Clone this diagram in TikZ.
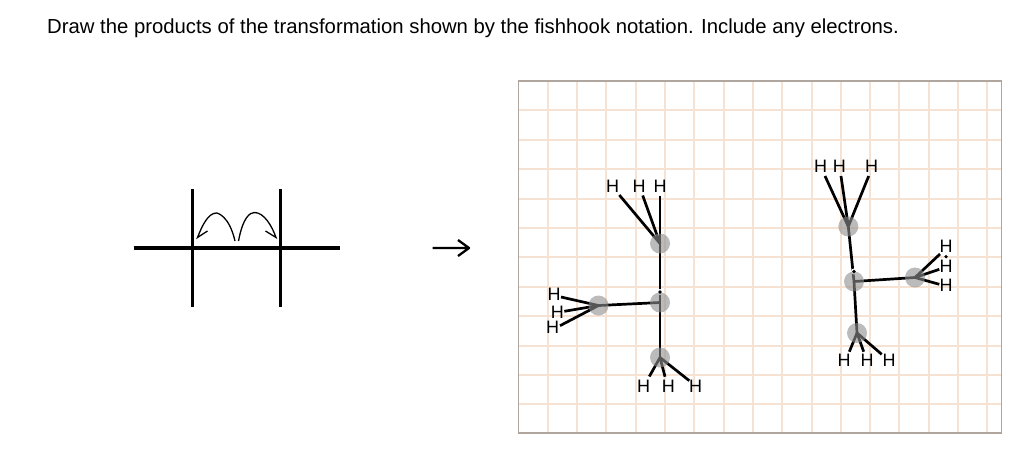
\documentclass[tikz,border=0pt]{standalone}
\usepackage{fontspec}
\setmainfont{Liberation Sans}
\definecolor{gridc}{HTML}{F6E2D2}
\definecolor{framec}{HTML}{B0A69E}
\definecolor{atomc}{HTML}{8F8F8F}
\tikzset{
  x=1pt,y=-1pt,
  gridline/.style={gridc,line width=2pt},
  framebox/.style={framec,line width=1.8pt},
  skeleton/.style={black,line width=3.2pt},
  bond/.style={black,line width=2.7pt},
  hookline/.style={black,line width=1.3pt},
  atom/.style={circle,minimum size=20pt,inner sep=0pt},
  atomfill/.style={fill=atomc,fill opacity=0.6},
  hatom/.style={inner sep=0pt,font=\fontsize{18}{18}\selectfont},
  dotmark/.style={circle,fill=black,minimum size=3.6pt,inner sep=0pt},
  holemark/.style={circle,fill=white,minimum size=6pt,inner sep=0pt},
}
\begin{document}
\begin{tikzpicture}
\useasboundingbox (0,0) rectangle (1024,475);
\fill[white] (0,0) rectangle (1024,475);
\node[anchor=west,inner sep=0pt,font=\fontsize{20.3}{20.3}\selectfont] (title) at (47,28.5) {Draw the products of the transformation shown by the fishhook notation. Include any electrons.};
% grid
\foreach \k in {1,...,16} \draw[gridline] ({518.5+29.3*\k},81) -- ({518.5+29.3*\k},433);
\foreach \k in {1,...,11} \draw[gridline] (518.5,{81+29.4*\k}) -- (1001.5,{81+29.4*\k});
\draw[framebox] (518.5,81) rectangle (1001.5,433);
% left structure
\coordinate (hl) at (133.5,248); \coordinate (hr) at (340,248);
\coordinate (v1t) at (192.7,189); \coordinate (v1b) at (192.7,307);
\coordinate (v2t) at (280.5,189); \coordinate (v2b) at (280.5,307);
\draw[skeleton] (hl) -- (hr);
\draw[skeleton] (v1t) -- (v1b);
\draw[skeleton] (v2t) -- (v2b);
\coordinate (s1) at (235,241); \coordinate (t1) at (197.5,237.5); \coordinate (b1) at (207.5,231);
\coordinate (s2) at (238.5,241); \coordinate (t2) at (276,237.5); \coordinate (b2) at (265.5,231);
\draw[hookline] (s1) .. controls (229,215) and (217,213) .. (216.5,213) .. controls (208,213) and (202,226) .. (t1) -- (b1);
\draw[hookline] (s2) .. controls (243,217) and (250,212.5) .. (254.5,212.5) .. controls (264,212.5) and (272,226) .. (t2) -- (b2);
% reaction arrow
\coordinate (al) at (432.5,248); \coordinate (ar) at (469,248);
\coordinate (au) at (458,240); \coordinate (ad) at (458,256);
\draw[black,line width=2.3pt,line join=round] (al) -- (ar) (au) -- (ar) -- (ad);
% molecule 1
\node[atom] (a1) at (660,243.5) {};
\node[atom] (a2) at (660,302.5) {};
\node[atom] (a3) at (660,357.5) {};
\node[atom] (a4) at (598.5,305.5) {};
\node[hatom] (h1) at (612.7,186.5) {H};
\node[hatom] (h2) at (639,186.5) {H};
\node[hatom] (h3) at (660,186.5) {H};
\node[hatom] (h4) at (554,294.5) {H};
\node[hatom] (h5) at (557.3,312.5) {H};
\node[hatom] (h6) at (552.7,327.7) {H};
\node[hatom] (h7) at (643.7,386) {H};
\node[hatom] (h8) at (668.3,386) {H};
\node[hatom] (h9) at (695.7,386) {H};
\draw[bond] (h1) ++(6.6,8.5) -- (a1.center);
\draw[bond] (h2) ++(3.7,9) -- (a1.center);
\draw[bond] (h3) ++(0,9) -- (a1.center);
\draw[bond] (a1.center) -- (a2.center) -- (a3.center);
\draw[bond] (a2.center) -- (a4.center);
\draw[bond] (h4) ++(7,2.5) -- (a4.center);
\draw[bond] (h5) ++(7,-1.2) -- (a4.center);
\draw[bond] (h6) ++(7.3,-2) -- (a4.center);
\draw[bond] (h7) ++(5.6,-9.5) -- (a3.center);
\draw[bond] (h8) ++(-3.3,-9.3) -- (a3.center);
\draw[bond] (h9) ++(-6.4,-5.3) -- (a3.center);
\node[holemark] (g1) at (660,292) {};
\foreach \n in {a1,a2,a3,a4} \fill[atomfill] (\n) circle (10pt);
\node[dotmark] (d1) at (660,292) {};
% molecule 2
\node[atom] (c1) at (848.3,226.5) {};
\node[atom] (c2) at (854,281.5) {};
\node[atom] (c3) at (857,333) {};
\node[atom] (c4) at (915,277.5) {};
\node[hatom] (k1) at (820.7,166) {H};
\node[hatom] (k2) at (839.3,166) {H};
\node[hatom] (k3) at (871.7,166) {H};
\node[hatom] (k4) at (946,246.7) {H};
\node[hatom] (k5) at (946,266.7) {H};
\node[hatom] (k6) at (946,285.7) {H};
\node[hatom] (k7) at (844,360.7) {H};
\node[hatom] (k8) at (867,360.7) {H};
\node[hatom] (k9) at (889,360.7) {H};
\draw[bond] (k1) ++(4.3,10) -- (c1.center);
\draw[bond] (k2) ++(1.7,10) -- (c1.center);
\draw[bond] (k3) ++(-3,10) -- (c1.center);
\draw[bond] (c1.center) -- (c2.center) -- (c3.center);
\draw[bond] (c2.center) -- (c4.center);
\draw[bond] (k4) ++(-6,7.3) -- (c4.center);
\draw[bond] (k5) ++(-6.7,2.6) -- (c4.center);
\draw[bond] (k6) ++(-6.7,-1.4) -- (c4.center);
\draw[bond] (k7) ++(5.3,-9) -- (c3.center);
\draw[bond] (k8) ++(-3.3,-9) -- (c3.center);
\draw[bond] (k9) ++(-7.3,-6.4) -- (c3.center);
\node[holemark] (g2) at (854,271.5) {};
\foreach \n in {c1,c2,c3,c4} \fill[atomfill] (\n) circle (10pt);
\node[dotmark] (d2) at (854,271.5) {};
\node[dotmark] (d3) at (946,256.7) {};
\end{tikzpicture}
\end{document}
